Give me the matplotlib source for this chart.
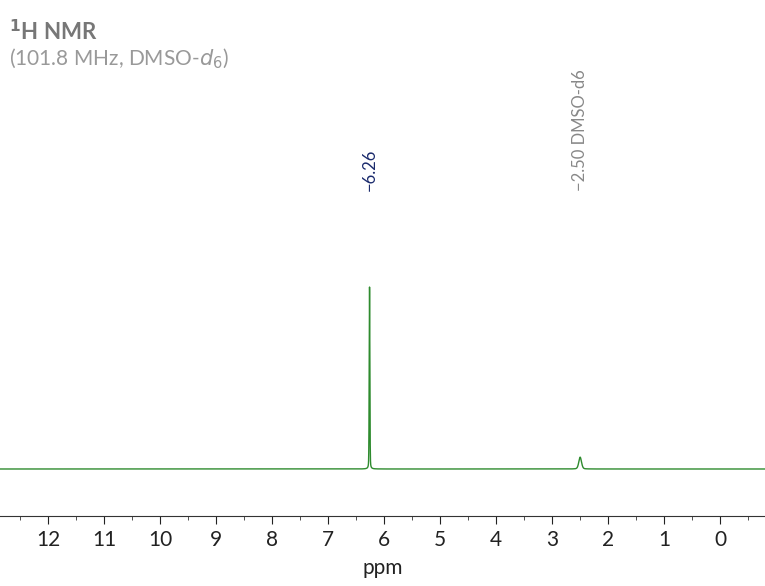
import numpy as np
import matplotlib.pyplot as plt

plt.rcParams['font.family'] = ['Lato', 'DejaVu Sans']

# peaks: position (ppm), height, half-width (ppm)
peak_ppm = [6.26, 2.50]
peak_height = [1.0, 0.065]
peak_width = [0.006, 0.025]
labels = ['6.26', '2.50 DMSO-d6']
label_colors = ['#1a2a6c', '#888888']
ticks = [12, 11, 10, 9, 8, 7, 6, 5, 4, 3, 2, 1, 0]

ppm = np.linspace(13.5, -1.5, 60000)
spec = np.zeros_like(ppm)
for p, h, w in zip(peak_ppm, peak_height, peak_width):
    spec += h * np.exp(-0.5 * ((ppm - p) / w)**2) * 0.7 + h * 0.3 * w**2 / ((ppm - p)**2 + w**2)

fig = plt.figure(figsize=(7.65, 5.86), dpi=100)
ax = fig.add_axes([0, 70 / 586, 1, 516 / 586])
ax.plot(ppm, spec, color='#2e8b2e', lw=1.0)
ax.set_xlim(12.857, -0.80)
ax.set_ylim(-0.2583, 2.577)
for s in ['top', 'left', 'right']:
    ax.spines[s].set_visible(False)
ax.spines['bottom'].set_color('#333333')
ax.set_yticks([])
ax.set_xticks(ticks)
ax.set_xticks(np.arange(-0.5, 13, 1), minor=True)
ax.tick_params(axis='x', which='major', length=6, labelsize=15, colors='#222222', pad=4)
ax.tick_params(axis='x', which='minor', length=3, colors='#333333')
ax.set_xlabel('ppm', fontsize=15, color='#222222', labelpad=6)

for p, lab, c in zip(peak_ppm, labels, label_colors):
    ax.text(p, 1.53, '\u2212' + lab, rotation=90, ha='center', va='bottom',
            fontsize=12, color=c)

fig.text(0.012, 0.932, r'$^{\mathbf{1}}$H NMR', fontsize=16, fontweight='bold',
         color='#777777', va='baseline')
fig.text(0.012, 0.888, r'(101.8 MHz, DMSO-$d_6$)', fontsize=15, color='#999999',
         va='baseline')

fig.savefig('out.png', dpi=100)
